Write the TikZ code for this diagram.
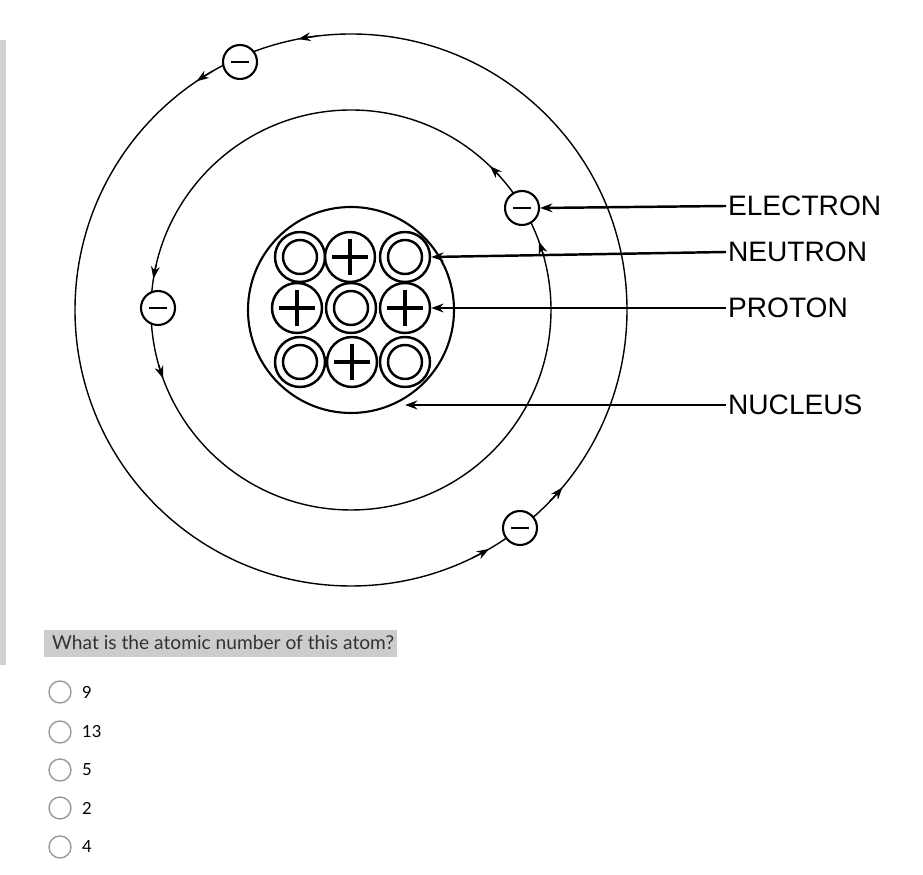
\documentclass[tikz,border=0pt]{standalone}
\usepackage{fontspec}
\setmainfont{Liberation Sans}
\newfontfamily\latofont{Lato}
\usetikzlibrary{arrows.meta}

\begin{document}
\begin{tikzpicture}[x=0.02cm,y=0.02cm,>={Stealth[length=7pt,width=5pt]},
  orbit/.style={line width=0.8pt},
  electron/.style={circle,draw,fill=white,line width=1.2pt,minimum size=34*0.02cm,inner sep=0pt},
  nucleon/.style={circle,draw,fill=white,line width=1.4pt,minimum size=50*0.02cm,inner sep=0pt},
  label text/.style={anchor=west,font=\fontsize{16pt}{18pt}\selectfont,inner sep=1pt},
  pointer/.style={->,line width=1.4pt},
  option/.style={circle,draw=gray!80,line width=0.8pt,minimum size=22*0.02cm,inner sep=0pt},
  option text/.style={anchor=west,font=\latofont\fontsize{9.5pt}{11pt}\selectfont}]

  \useasboundingbox (0,0) rectangle (923,875);
  \fill[gray!35] (0,210) rectangle (6,835);

  \coordinate (C) at (351,565);
  % orbits
  \draw[orbit] (C) circle (276);
  \draw[orbit] (C) circle (200);
  \foreach \a in {101,124,-60,-40}
    \draw[orbit,->] (C) ++(\a-4:276) arc (\a-4:\a:276);
  \foreach \a in {46,171,200,20}
    \draw[orbit,->] (C) ++(\a-4:200) arc (\a-4:\a:200);

  % nucleus
  \node[circle,draw,line width=1.2pt,minimum size=206*0.02cm] (nucleus) at (C) {};
  \foreach \i/\x/\y/\k in {1/300/618/n,2/350/618/p,3/405/618/n,
                           4/297/567/p,5/351/567/n,6/405/567/p,
                           7/300/513/n,8/352/513/p,9/405/513/n} {
    \node[nucleon] (nuc\i) at (\x,\y) {};
    \if n\k
      \draw[line width=1.4pt] (nuc\i) circle (17);
    \else
      \draw[line width=1.8pt] (\x-18,\y) -- (\x+18,\y) (\x,\y-18) -- (\x,\y+18);
    \fi
  }

  % electrons
  \foreach \n/\x/\y in {e1/240/813,e2/158/567,e3/522/667,e4/520/347} {
    \node[electron] (\n) at (\x,\y) {};
    \draw[line width=1.6pt] (\x-9,\y) -- (\x+9,\y);
  }

  % labels
  \node[label text] (lelectron) at (726,669) {ELECTRON};
  \node[label text] (lneutron) at (726,623) {NEUTRON};
  \node[label text] (lproton) at (726,567) {PROTON};
  \node[label text] (lnucleus) at (726,470) {NUCLEUS};
  \draw[pointer] (lelectron.west) -- (e3.east);
  \draw[pointer] (lneutron.west) -- (nuc3.east);
  \draw[pointer] (lproton.west) -- (nuc6.east);
  \draw[pointer] (lnucleus.west) -- (405,470);

  % question
  \fill[gray!40] (44,218) rectangle (397,245);
  \node[anchor=west,font=\latofont\fontsize{10.9pt}{12pt}\selectfont,text=black!80] (q) at (46,232) {What is the atomic number of this atom?};
  \foreach \t/\y in {9/183,13/143,5/105,2/67,4/28} {
    \node[option] (o\t) at (60,\y) {};
    \node[option text] at (76,\y) {\t};
  }
\end{tikzpicture}
\end{document}
